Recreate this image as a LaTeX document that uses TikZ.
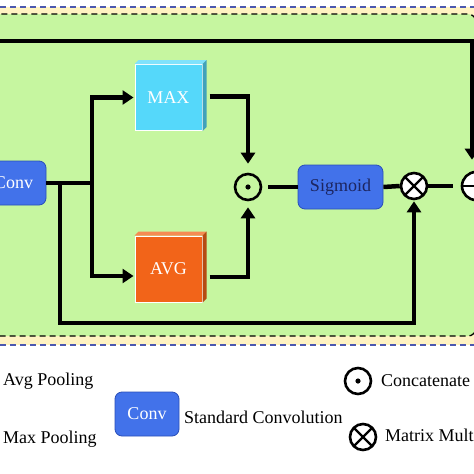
\documentclass[tikz,border=0pt]{standalone}
\usepackage{fontspec}
\setmainfont{Liberation Serif}
\usetikzlibrary{arrows.meta,calc}
\definecolor{bgreen}{HTML}{C6F6A0}
\definecolor{byellow}{HTML}{FFF3C2}
\definecolor{bblue}{HTML}{4B58B0}
\definecolor{convblue}{HTML}{4272EA}
\definecolor{convedge}{HTML}{2A4FB8}
\definecolor{maxcyan}{HTML}{55D8FA}
\definecolor{avgorange}{HTML}{F26419}
\definecolor{navytext}{HTML}{1C2560}
\newcommand\dfont{\fontsize{18}{21}\selectfont}
\begin{document}
\begin{tikzpicture}[x=1pt,y=-1pt,
  flow/.style={line width=4.5pt},
  arr/.style={line width=4.5pt,-{Triangle[length=11pt,width=14pt]}},
  convbox/.style={rectangle,rounded corners=7pt,fill=convblue,draw=convedge,line width=0.8pt,text=white,font=\dfont,inner sep=0pt},
  cube/.style={rectangle,draw=white,line width=1pt,text=white,font=\dfont,minimum width=67pt,minimum height=66pt,inner sep=0pt},
  opbase/.style={circle,draw=black,line width=2.6pt,minimum size=26pt,inner sep=0pt},
  odot/.style={opbase,path picture={\fill[black] (path picture bounding box.center) circle (2.6pt);}},
  otimes/.style={opbase,fill=white,path picture={\draw[line width=2.2pt] ($(path picture bounding box.center)+(45:14pt)$) -- ($(path picture bounding box.center)+(225:14pt)$) ($(path picture bounding box.center)+(135:14pt)$) -- ($(path picture bounding box.center)+(315:14pt)$);}},
  oplus/.style={opbase,fill=white,minimum size=28pt,path picture={\draw[line width=2.2pt] ($(path picture bounding box.center)+(-15pt,0)$) -- ($(path picture bounding box.center)+(15pt,0)$) ($(path picture bounding box.center)+(0,-15pt)$) -- ($(path picture bounding box.center)+(0,15pt)$);}},
  txt/.style={font=\dfont,inner sep=0pt,anchor=west}
]
\useasboundingbox (0,0) rectangle (474,474);
\clip (0,0) rectangle (474,474);
\fill[white] (0,0) rectangle (474,474);
% frames
\fill[byellow] (-20,7) rectangle (500,345);
\draw[bblue,line width=1.3pt,dash pattern=on 6pt off 4pt] (-20,7) -- (500,7) (-20,345) -- (500,345);
\draw[fill=bgreen,line width=1.3pt,dash pattern=on 6pt off 4pt,rounded corners=8pt] (-20,14) rectangle (476,336);

% nodes
\node[convbox,minimum width=65pt,minimum height=44pt] (conv) at (13.5,183) {Conv};
\node[cube,fill=maxcyan] (max) at (168.5,97.5) {MAX};
\fill[maxcyan!75!white] (max.north west) -- ++(4,-4) -- ($(max.north east)+(4,-4)$) -- (max.north east) -- cycle;
\fill[maxcyan!75!black] (max.north east) -- ++(4,-4) -- ($(max.south east)+(4,-4)$) -- (max.south east) -- cycle;
\node[cube,fill=avgorange] (avg) at (168.5,269) {AVG};
\fill[avgorange!75!white] (avg.north west) -- ++(4,-4) -- ($(avg.north east)+(4,-4)$) -- (avg.north east) -- cycle;
\fill[avgorange!75!black] (avg.north east) -- ++(4,-4) -- ($(avg.south east)+(4,-4)$) -- (avg.south east) -- cycle;
\node[odot] (dot) at (248,187) {};
\node[convbox,minimum width=85pt,minimum height=44pt,text=navytext] (sig) at (340.5,187) {Sigmoid};
\node[otimes] (mul) at (414,186) {};
\node[oplus] (plus) at (476,186) {};

% connectors
\coordinate (b1) at (92,183);
\coordinate (b2) at (60,183);
\coordinate (c2) at (60,323);
\coordinate (tl) at (-10,41);
\coordinate (tr) at (472,41);
\draw[flow] (conv.east) -- (b1);
\draw[arr,shorten >=1pt] ($(b1)+(0,2)$) |- (max.west);
\draw[arr,shorten >=1pt] ($(b1)+(0,-2)$) |- ($(avg.west)+(0,7)$);
\draw[arr,shorten >=9pt] ($(max.east)+(7,-1)$) -| (dot.north);
\draw[arr,shorten >=6pt] ($(avg.east)+(7,8)$) -| (dot.south);
\draw[flow,shorten <=6pt] (dot.east) -- (sig.west);
\draw[flow] (sig.east) -- (mul.west);
\draw[flow,shorten >=8pt] (mul.east) -- (plus.west);
\draw[arr,shorten >=1pt] (b2) -- (c2) -| (mul.south);
\draw[arr,shorten >=11pt] (tl) -- (tr) -- (tr |- plus.north);

% legend
\node[txt] (lavg) at (3,381) {Avg Pooling};
\node[txt] (lmax) at (3,439) {Max Pooling};
\node[convbox,minimum width=64pt,minimum height=44pt] (lconv) at (147,414) {Conv};
\node[txt] (lstd) at (184,417) {Standard Convolution};
\node[odot,fill=white] (ldot) at (358,381) {};
\node[txt] (lcat) at (381,381) {Concatenate};
\node[otimes] (lmul) at (363,437) {};
\node[txt] (lmm) at (385,437) {Matrix Multiplication};
\end{tikzpicture}
\end{document}
